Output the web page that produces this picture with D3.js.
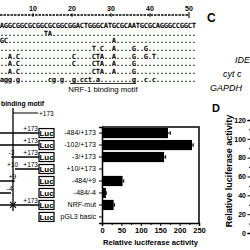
<!DOCTYPE html>
<html>
<head>
<meta charset="utf-8">
<script src="https://cdn.jsdelivr.net/npm/d3@7"></script>
<style>
    body { margin: 0; background: #fff; }
    svg { display: block; font-family: "Liberation Sans", Arial, sans-serif; }
</style>
</head>
<body>
<div id="chart"></div>
<script>
// Panel A: promoter alignment (reference + differences per species)
let refSeq = "AGGCGGCGCGGCGCGGCGGACTGGGCATGCGCAATGCGCAGGGCCGGCT";
let seqDiffs = [
    [[11, "TA"]],
    [[0, "GC"], [28, "A"]],
    [[23, "T.C"], [28, "A"], [33, "G"], [36, "G"]],
    [[2, "A.C"], [18, "C"], [23, "CTA"], [28, "A"], [33, "G"], [36, "G.T"]],
    [[2, "A.C"], [18, "C"], [23, "CTA"], [28, "A"], [33, "G"]],
    [[2, "A.C"], [23, "CTA"], [28, "A"], [33, "G"]],
    [[0, "agg.g"], [12, "cg.g..g.cct.a"], [33, "g"], [36, "c.c"]]
];
let rulerTicks = [10, 20, 30, 40, 50];
let motifCols = [17.5, 34];

// Panel B: constructs and relative luciferase activity
let constructs = ["-484/+173", "-102/+173", "-3/+173", "+10/+173", "-484/+9", "-484/-4", "NRF-mut", "pGL3 basic"];
let activity = [170, 232, 160, 1, 53, 10, 30, 0];
let activityErr = [6, 3, 4, 0, 3, 1, 2, 0];
let activityTicks = [0, 50, 100, 150, 200, 250];
let activityMinor = [25, 75, 125, 175, 225];
let constructStart = [-484, -102, -3, 10, -484, -484, -484, null];
let constructEnd = [173, 173, 173, 173, 9, -4, 173, null];
let startLabels = ["", "", "-3", "+10", "", "", "", ""];
let endLabels = ["+173", "+173", "+173", "+173", "+9", "-4", "+173", ""];
let nrfMutated = [false, false, false, false, false, false, true, false];
let motifPos = 3;

// Panel C / D
let genes = ["IDE", "cyt c", "GAPDH"];
let dTicks = [0, 20, 40, 60, 80, 100, 120];
let dMinor = [10, 30, 50, 70, 90, 110];

let svg = d3.select("#chart").append("svg")
    .attr("width", 250)
    .attr("height", 250);

// ---------- Panel A ----------
let seqX = d3.scaleLinear().domain([0, refSeq.length]).range([0, 196]);
let rowY = d3.scaleLinear().domain([0, seqDiffs.length]).range([28, 81.5]);
let rulerX = d3.scaleLinear().domain([10, 50]).range([33, 189]);

let alignRows = [refSeq].concat(seqDiffs.map(diffs => {
    let chars = Array.from(refSeq, () => ".");
    diffs.forEach(([pos, s]) => s.split("").forEach((c, k) => chars[pos + k] = c));
    return chars.join("");
}));

let seqG = svg.append("g")
    .attr("font-family", "DejaVu Sans Mono, monospace")
    .attr("font-weight", "bold")
    .attr("font-size", 7.2)
    .attr("text-anchor", "middle");

alignRows.forEach((row, r) => {
    seqG.append("g").selectAll("text")
        .data(row.split(""))
        .join("text")
        .attr("x", (d, i) => seqX(i + 0.5))
        .attr("y", rowY(r))
        .text(d => d);
});

// ruler
svg.append("line")
    .attr("x1", 0).attr("x2", rulerX(50))
    .attr("y1", 15).attr("y2", 15)
    .attr("stroke", "#000").attr("stroke-width", 1.3)
    .attr("stroke-dasharray", "2.5,1");

svg.selectAll(".rtick")
    .data(rulerTicks)
    .join("line")
    .attr("class", "rtick")
    .attr("x1", d => rulerX(d)).attr("x2", d => rulerX(d))
    .attr("y1", d => d === 50 ? 12 : 13.3).attr("y2", d => d === 50 ? 18 : 16.7)
    .attr("stroke", "#000").attr("stroke-width", 1.1);

svg.selectAll(".rlabel")
    .data(rulerTicks)
    .join("text")
    .attr("class", "rlabel")
    .attr("x", d => rulerX(d))
    .attr("y", 11)
    .attr("text-anchor", "middle")
    .attr("font-size", 7)
    .attr("font-weight", "bold")
    .text(d => d);

// NRF-1 motif underline + label
svg.append("line")
    .attr("x1", seqX(motifCols[0])).attr("x2", seqX(motifCols[1]))
    .attr("y1", 83.5).attr("y2", 83.5)
    .attr("stroke", "#000").attr("stroke-width", 0.8);

svg.append("text")
    .attr("x", (seqX(motifCols[0]) + seqX(motifCols[1])) / 2)
    .attr("y", 92)
    .attr("text-anchor", "middle")
    .attr("font-size", 7.8)
    .text("NRF-1 binding motif");

// ---------- Panel B ----------
let bx = d3.scaleLinear().domain([0, 250]).range([102, 199]);
let by = d3.scaleBand().domain(constructs).range([127, 223]).paddingInner(0.15).paddingOuter(0.08);

// frame
svg.append("path")
    .attr("d", `M${bx(0)},${by.range()[0]}H${bx(250)}V${by.range()[1]}`)
    .attr("fill", "none").attr("stroke", "#000").attr("stroke-width", 1.5);

svg.selectAll(".bar")
    .data(constructs)
    .join("rect")
    .attr("class", "bar")
    .attr("x", bx(0))
    .attr("y", d => by(d))
    .attr("width", (d, i) => bx(activity[i]) - bx(0))
    .attr("height", by.bandwidth())
    .attr("fill", "#000");

let errG = svg.append("g").attr("stroke", "#000").attr("stroke-width", 1);
constructs.forEach((c, i) => {
    if (!activityErr[i]) return;
    let cy = by(c) + by.bandwidth() / 2;
    errG.append("line")
        .attr("x1", bx(activity[i])).attr("x2", bx(activity[i] + activityErr[i]))
        .attr("y1", cy).attr("y2", cy);
    errG.append("line")
        .attr("x1", bx(activity[i] + activityErr[i])).attr("x2", bx(activity[i] + activityErr[i]))
        .attr("y1", cy - 1.8).attr("y2", cy + 1.8);
});

let xAxis = svg.append("g")
    .attr("transform", `translate(0,${by.range()[1]})`)
    .call(d3.axisBottom(bx).tickValues(activityTicks).tickSize(3).tickPadding(1.5));
svg.append("g")
    .attr("transform", `translate(0,${by.range()[1]})`)
    .call(d3.axisBottom(bx).tickValues(activityMinor).tickSize(2).tickFormat(""))
    .call(g => g.select(".domain").remove());
xAxis.selectAll("text").attr("font-size", 7.5).attr("font-weight", "bold").attr("fill", "#000")
    .attr("font-family", "Liberation Sans, Arial, sans-serif");

let yAxis = svg.append("g")
    .attr("transform", `translate(${bx(0)},0)`)
    .call(d3.axisLeft(by).tickSize(3).tickPadding(3));
yAxis.selectAll("text").attr("font-size", 7).attr("fill", "#000")
    .attr("font-family", "Liberation Sans, Arial, sans-serif");

svg.selectAll(".domain").attr("stroke-width", 1.5);
svg.selectAll(".tick line").attr("stroke-width", 1);

svg.append("text")
    .attr("x", (bx(0) + bx(250)) / 2)
    .attr("y", 245)
    .attr("text-anchor", "middle")
    .attr("font-size", 7.6)
    .attr("font-weight", "bold")
    .text("Relative luciferase activity");

// construct diagram
let diagX = d3.scaleLinear().domain([-484, -4, 10, 173]).range([-60, 11, 15, 39]);
let rowMid = c => by(c) + by.bandwidth() / 2;
let lucW = 15, lucH = 9;

svg.append("line")
    .attr("x1", diagX(motifPos)).attr("x2", diagX(motifPos))
    .attr("y1", 108).attr("y2", rowMid("NRF-mut") + 6)
    .attr("stroke", "#000").attr("stroke-width", 1.3);

svg.append("text")
    .attr("x", 1).attr("y", 106)
    .attr("font-size", 6.8)
    .attr("font-weight", "bold")
    .text("binding motif");

svg.append("line")
    .attr("x1", diagX(motifPos)).attr("x2", diagX(173) - 1)
    .attr("y1", 113).attr("y2", 113)
    .attr("stroke", "#000").attr("stroke-width", 1);
svg.append("text")
    .attr("x", diagX(173)).attr("y", 115.5)
    .attr("font-size", 6.5)
    .text("+173");

let diag = svg.append("g");
constructs.forEach((c, i) => {
    let cy = rowMid(c);
    if (constructStart[i] !== null) {
        diag.append("line")
            .attr("x1", diagX(constructStart[i])).attr("x2", diagX(constructEnd[i]))
            .attr("y1", cy).attr("y2", cy)
            .attr("stroke", "#000").attr("stroke-width", 1.5);
    }
    if (startLabels[i]) {
        diag.append("text")
            .attr("x", diagX(constructStart[i]) + 3).attr("y", cy - 2)
            .attr("text-anchor", "end").attr("font-size", 6.5)
            .text(startLabels[i]);
    }
    if (endLabels[i]) {
        let endX = diagX(constructEnd[i]);
        diag.append("text")
            .attr("x", constructEnd[i] === 173 ? endX - 1 : endX + 1.5).attr("y", cy - 2)
            .attr("text-anchor", "end").attr("font-size", 6.5)
            .text(endLabels[i]);
    }
    if (nrfMutated[i]) {
        let mx = diagX(motifPos);
        diag.append("path")
            .attr("d", `M${mx - 3},${cy - 3}L${mx + 3},${cy + 3}M${mx - 3},${cy + 3}L${mx + 3},${cy - 3}`)
            .attr("stroke", "#000").attr("stroke-width", 1.1);
    }
    // Luc reporter box
    diag.append("rect")
        .attr("x", diagX(173)).attr("y", cy - lucH / 2)
        .attr("width", lucW).attr("height", lucH)
        .attr("fill", "#fff").attr("stroke", "#000").attr("stroke-width", 1.2);
    diag.append("text")
        .attr("x", diagX(173) + lucW / 2).attr("y", cy + 3)
        .attr("text-anchor", "middle")
        .attr("font-size", 8).attr("font-weight", "bold")
        .text("Luc");
});

// ---------- Panel C ----------
svg.append("text")
    .attr("x", 207).attr("y", 22)
    .attr("font-size", 12).attr("font-weight", "bold")
    .text("C");

let geneX = [235, 223, 210];
let geneY = [63, 77, 91];
svg.selectAll(".gene")
    .data(genes)
    .join("text")
    .attr("class", "gene")
    .attr("x", (d, i) => geneX[i])
    .attr("y", (d, i) => geneY[i])
    .attr("font-size", 9)
    .attr("font-style", "italic")
    .text(d => d);

// ---------- Panel D ----------
svg.append("text")
    .attr("x", 212).attr("y", 112)
    .attr("font-size", 11).attr("font-weight", "bold")
    .text("D");

let dy = d3.scaleLinear().domain([0, 120]).range([233, 120]);
let dAxis = svg.append("g")
    .attr("transform", "translate(251,0)")
    .call(d3.axisLeft(dy).tickValues(dTicks).tickSize(3.5).tickPadding(1.5));
svg.append("g")
    .attr("transform", "translate(251,0)")
    .call(d3.axisLeft(dy).tickValues(dMinor).tickSize(2).tickFormat(""))
    .call(g => g.select(".domain").remove());
dAxis.select(".domain").attr("stroke-width", 1.5);
dAxis.selectAll(".tick line").attr("stroke-width", 1);
dAxis.selectAll("text").attr("font-size", 7).attr("font-weight", "bold").attr("fill", "#000")
    .attr("font-family", "Liberation Sans, Arial, sans-serif");

svg.append("text")
    .attr("transform", `translate(232,171) rotate(-90)`)
    .attr("text-anchor", "middle")
    .attr("font-size", 9)
    .attr("font-weight", "bold")
    .text("Relative luciferase activity");
</script>
</body>
</html>
